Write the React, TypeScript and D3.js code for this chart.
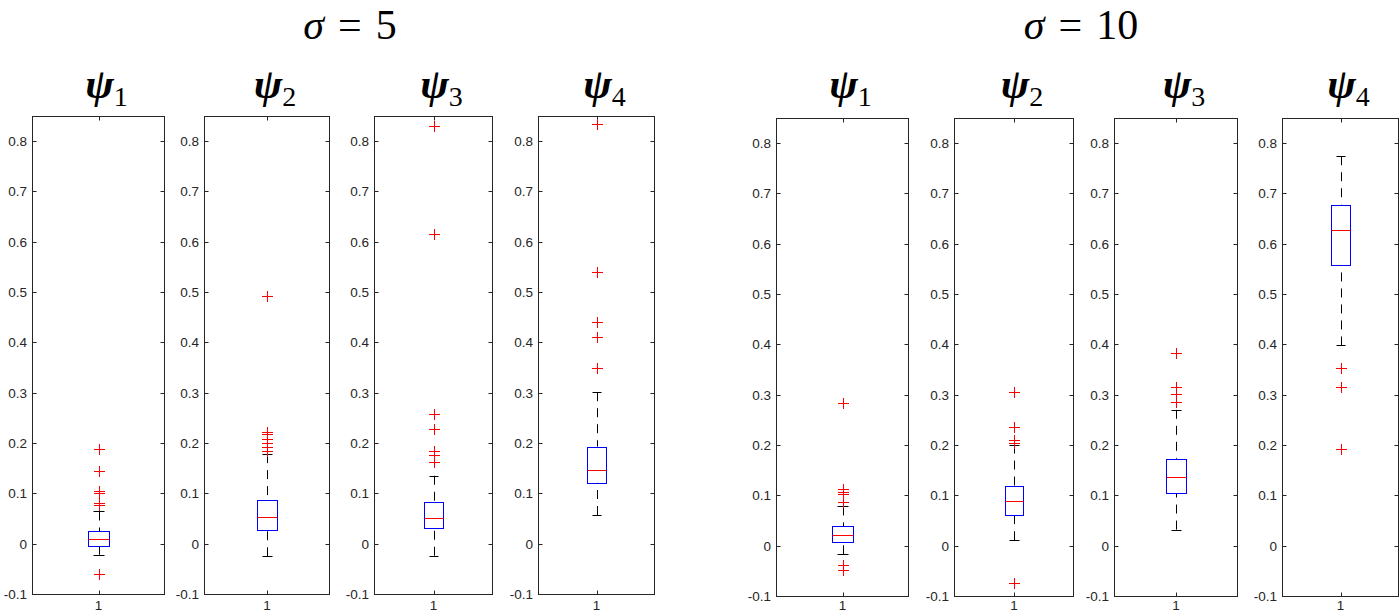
import React, { useEffect, useRef } from "react";
import * as d3 from "d3";

// axis ticks shared by every panel
const yTicks = [-0.1, 0, 0.1, 0.2, 0.3, 0.4, 0.5, 0.6, 0.7, 0.8];
const yTickLabels = ["-0.1", "0", "0.1", "0.2", "0.3", "0.4", "0.5", "0.6", "0.7", "0.8"];
const xTickLabel = "1";
const psiIndices = ["1", "2", "3", "4"];

// sigma = 5 : box statistics per psi component
const sigma5Low = [-0.022, -0.025, -0.024, 0.057];
const sigma5Q1 = [-0.005, 0.0265, 0.032, 0.121];
const sigma5Median = [0.0086, 0.054, 0.051, 0.147];
const sigma5Q3 = [0.0245, 0.0875, 0.082, 0.193];
const sigma5High = [0.064, 0.178, 0.135, 0.301];
const sigma5Outliers = [
  [0.188, 0.144, 0.104, 0.101, 0.081, 0.076, -0.06],
  [0.492, 0.222, 0.217, 0.208, 0.2, 0.192, 0.184],
  [0.831, 0.615, 0.257, 0.227, 0.185, 0.176, 0.163],
  [0.834, 0.539, 0.441, 0.411, 0.35],
];

// sigma = 10
const sigma10Low = [-0.017, 0.011, 0.032, 0.398];
const sigma10Q1 = [0.007, 0.061, 0.104, 0.558];
const sigma10Median = [0.021, 0.089, 0.136, 0.627];
const sigma10Q3 = [0.039, 0.118, 0.173, 0.678];
const sigma10High = [0.078, 0.201, 0.27, 0.774];
const sigma10Outliers = [
  [0.283, 0.113, 0.107, 0.103, 0.087, -0.039, -0.048],
  [0.306, 0.235, 0.211, 0.205, -0.074],
  [0.382, 0.315, 0.301, 0.285],
  [0.354, 0.316, 0.193],
];

const W = 1400;
const H = 613;
const AXIS = "#262626";
const TICK_FONT = "'Liberation Sans', Arial, Helvetica, sans-serif";
const MATH_FONT = "'Liberation Serif', 'Times New Roman', serif";

const groups = [
  {
    sigma: "5",
    titleX: 350,
    top: 116,
    bottom: 594,
    frames: [[32, 165], [204, 330], [374, 493], [538, 655]],
    low: sigma5Low, q1: sigma5Q1, median: sigma5Median, q3: sigma5Q3, high: sigma5High,
    outliers: sigma5Outliers,
  },
  {
    sigma: "10",
    titleX: 1081,
    top: 118,
    bottom: 596,
    frames: [[776, 909], [954, 1074], [1114, 1238], [1282, 1399]],
    low: sigma10Low, q1: sigma10Q1, median: sigma10Median, q3: sigma10Q3, high: sigma10High,
    outliers: sigma10Outliers,
  },
];

const crisp = (v: number) => Math.round(v) + 0.5;

const App: React.FC = () => {
  const svgRef = useRef<SVGSVGElement>(null);

  useEffect(() => {
    if (!svgRef.current) return;
    const svg = d3.select(svgRef.current);
    svg.selectAll("*").remove();

    svg.append("rect").attr("width", W).attr("height", H).attr("fill", "#fff");

    groups.forEach((grp) => {
      const y = d3.scaleLinear().domain([-0.1, 0.85]).range([grp.bottom, grp.top]);

      // group title: sigma = n, spaced out like TeX math
      const title = svg
        .append("text")
        .attr("x", grp.titleX)
        .attr("y", 39)
        .attr("text-anchor", "middle")
        .style("font-family", MATH_FONT)
        .style("font-size", "42px")
        .attr("fill", "#000");
      title.append("tspan").style("font-style", "italic").text("σ");
      title.append("tspan").attr("dx", 14).text("=");
      title.append("tspan").attr("dx", 14).text(grp.sigma);

      grp.frames.forEach(([x0, x1], i) => {
        const x = d3.scaleLinear().domain([0.5, 1.5]).range([x0, x1]);
        const cx = crisp(x(1));
        const g = svg.append("g");

        // panel title: bold psi with subscript
        const t = g
          .append("text")
          .attr("x", x(1) + 8)
          .attr("y", 98)
          .attr("text-anchor", "middle")
          .style("font-family", MATH_FONT)
          .attr("fill", "#000");
        t.append("tspan")
          .style("font-size", "43px")
          .style("font-style", "italic")
          .style("font-weight", "bold")
          .text("ψ");
        t.append("tspan").attr("dy", 8).style("font-size", "28px").text(psiIndices[i]);

        // frame
        g.append("rect")
          .attr("x", crisp(x0))
          .attr("y", crisp(grp.top))
          .attr("width", Math.round(x1) - Math.round(x0) - 1)
          .attr("height", Math.round(grp.bottom) - Math.round(grp.top))
          .attr("fill", "none")
          .attr("stroke", AXIS)
          .attr("stroke-width", 1);

        // y ticks on both sides, pointing inward
        yTicks.forEach((v, k) => {
          const ty = crisp(y(v));
          g.append("line")
            .attr("x1", crisp(x0)).attr("x2", crisp(x0) + 4)
            .attr("y1", ty).attr("y2", ty)
            .attr("stroke", AXIS);
          g.append("line")
            .attr("x1", crisp(x1) - 1).attr("x2", crisp(x1) - 5)
            .attr("y1", ty).attr("y2", ty)
            .attr("stroke", AXIS);
          g.append("text")
            .attr("x", x0 - 5)
            .attr("y", y(v))
            .attr("dy", "0.36em")
            .attr("text-anchor", "end")
            .style("font-family", TICK_FONT)
            .style("font-size", "13.5px")
            .attr("fill", AXIS)
            .text(yTickLabels[k]);
        });

        // x tick at category 1
        g.append("line")
          .attr("x1", cx).attr("x2", cx)
          .attr("y1", crisp(grp.top)).attr("y2", crisp(grp.top) + 4)
          .attr("stroke", AXIS);
        g.append("line")
          .attr("x1", cx).attr("x2", cx)
          .attr("y1", crisp(grp.bottom)).attr("y2", crisp(grp.bottom) - 4)
          .attr("stroke", AXIS);
        g.append("text")
          .attr("x", x(1))
          .attr("y", Math.min(grp.bottom + 16, H - 3))
          .attr("text-anchor", "middle")
          .style("font-family", TICK_FONT)
          .style("font-size", "13.5px")
          .attr("fill", AXIS)
          .text(xTickLabel);

        const bx0 = crisp(x(0.9225));
        const bx1 = crisp(x(1.0775));
        const cap0 = crisp(x(0.96));
        const cap1 = crisp(x(1.04));

        // whiskers (dashed) and caps
        [
          [grp.q3[i], grp.high[i]],
          [grp.q1[i], grp.low[i]],
        ].forEach(([from, to]) => {
          g.append("line")
            .attr("x1", cx).attr("x2", cx)
            .attr("y1", y(to)).attr("y2", y(from))
            .attr("stroke", "#000")
            .attr("stroke-dasharray", "9,7");
          g.append("line")
            .attr("x1", cap0).attr("x2", cap1)
            .attr("y1", crisp(y(to))).attr("y2", crisp(y(to)))
            .attr("stroke", "#000");
        });

        // box
        g.append("rect")
          .attr("x", bx0)
          .attr("y", crisp(y(grp.q3[i])))
          .attr("width", bx1 - bx0)
          .attr("height", crisp(y(grp.q1[i])) - crisp(y(grp.q3[i])))
          .attr("fill", "none")
          .attr("stroke", "#0000ff");

        // median
        g.append("line")
          .attr("x1", bx0).attr("x2", bx1)
          .attr("y1", crisp(y(grp.median[i]))).attr("y2", crisp(y(grp.median[i])))
          .attr("stroke", "#ff0000");

        // outliers as '+'
        g.selectAll("path.outlier")
          .data(grp.outliers[i])
          .enter()
          .append("path")
          .attr("class", "outlier")
          .attr("d", (v) => {
            const py = crisp(y(v));
            return `M${cx - 5.5},${py}H${cx + 5.5}M${cx},${py - 5.5}V${py + 5.5}`;
          })
          .attr("stroke", "#ff0000")
          .attr("fill", "none");
      });
    });
  }, []);

  return (
    <svg
      ref={svgRef}
      width={W}
      height={H}
      style={{ position: "absolute", left: 0, top: 0, display: "block" }}
    />
  );
};

export default App;
